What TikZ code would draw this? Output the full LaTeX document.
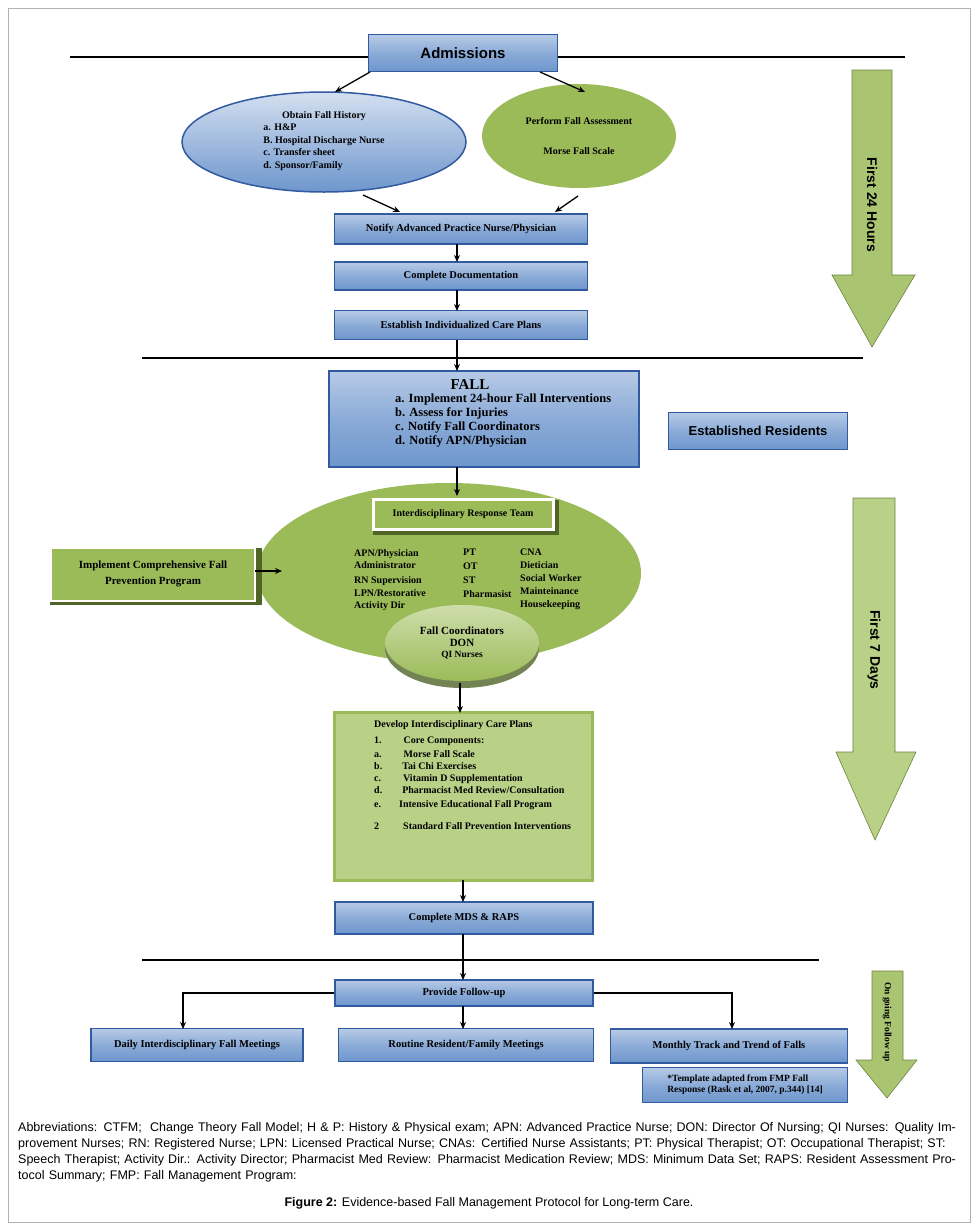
\documentclass[tikz,border=0pt]{standalone}
\usepackage{fontspec}
\setmainfont{Liberation Serif}
\setsansfont{Liberation Sans}
\usetikzlibrary{arrows.meta,shapes.geometric}
\definecolor{bluebox}{RGB}{110,150,205}
\definecolor{bluedark}{RGB}{50,90,160}
\definecolor{gr}{RGB}{155,187,89}
\definecolor{grl}{RGB}{185,208,135}
\definecolor{grd}{RGB}{80,100,40}
\tikzset{
 bbox/.style={draw=bluedark,line width=1.5pt,top color=bluebox!50!white,bottom color=bluebox,middle color=bluebox!80!white,inner sep=0pt,font=\bfseries\fontsize{10.5}{12}\selectfont,align=center},
 arr/.style={-{Stealth[length=7pt,width=6pt]},line width=1.3pt},
 ln/.style={line width=2.2pt},
 bigarrow/.style={fill=gr!85!white,draw=gr!70!black,line width=0.6pt},
 sm/.style={font=\bfseries\fontsize{10}{12}\selectfont},
}
\begin{document}
\begin{tikzpicture}[x=1pt,y=-1pt]
\useasboundingbox (0,0) rectangle (978,1229);
\draw[gray!60] (8,8) rectangle (970,1222);
% lines
\draw[ln] (70,57) -- (905,57);
\draw[ln] (142,358) -- (863,358);
\draw[ln] (142,960) -- (819,960);
% big arrows
\draw[bigarrow] (852,70) -- (892,70) -- (892,275) -- (915,275) -- (872,347) -- (832,275) -- (852,275) -- cycle;
\node[rotate=-90,font=\sffamily\bfseries\fontsize{14}{16}\selectfont] at (872,205) {First 24 Hours};
\draw[bigarrow,fill=grl] (853,498) -- (895,498) -- (895,752) -- (916,752) -- (875,840) -- (836,752) -- (853,752) -- cycle;
\node[rotate=-90,font=\sffamily\bfseries\fontsize{14}{16}\selectfont] at (874,650) {First 7 Days};
\draw[bigarrow] (872,971) -- (903,971) -- (903,1060) -- (917,1060) -- (887,1098) -- (856,1060) -- (872,1060) -- cycle;
\node[rotate=-90,font=\bfseries\fontsize{9.5}{10}\selectfont,align=center] at (887,1022) {On going Follow up};
% top
\node[bbox,minimum width=189pt,minimum height=37pt,font=\sffamily\bfseries\fontsize{15}{17}\selectfont] (adm) at (463,53) {Admissions};
\node[ellipse,draw=bluedark,line width=1.5pt,top color=bluebox!30!white,bottom color=bluebox,minimum width=284pt,minimum height=100pt,align=center,inner sep=0pt,font=\bfseries\fontsize{10}{12.5}\selectfont] (hist) at (324,142) {Obtain Fall History\\[0pt] \begin{tabular}{@{}l@{}}a. H\&P\\ B. Hospital Discharge Nurse\\ c. Transfer sheet\\ d. Sponsor/Family\end{tabular}};
\node[ellipse,fill=gr,minimum width=194pt,minimum height=104pt,align=center,inner sep=0pt,sm] (assess) at (579,136) {Perform Fall Assessment\\[18pt] Morse Fall Scale};
\node[bbox,minimum width=253pt,minimum height=30pt] (notify) at (461,229) {Notify Advanced Practice Nurse/Physician};
\node[bbox,minimum width=253pt,minimum height=28pt] (doc) at (461,276) {Complete Documentation};
\node[bbox,minimum width=253pt,minimum height=29pt] (plans) at (461,325) {Establish Individualized Care Plans};
\draw[arr] (370,72) -- (335,92);
\draw[arr] (540,72) -- (585,92);
\draw[arr] (363,195) -- (400,212);
\draw[arr] (578,196) -- (555,212);
\draw[arr] (457,244) -- (457,262);
\draw[arr] (457,290) -- (457,311);
% fall
\node[bbox,minimum width=310pt,minimum height=96pt] (fall) at (484,419) {};
\node[font=\bfseries\fontsize{15}{16}\selectfont] at (470,385) {FALL};
\node[font=\bfseries\fontsize{12.5}{13.8}\selectfont,align=left,anchor=north west,inner sep=0pt] at (395,394) {a. Implement 24-hour Fall Interventions\\ b. Assess for Injuries\\ c. Notify Fall Coordinators\\ d. Notify APN/Physician};
\draw[arr] (457,340) -- (457,371);
\node[bbox,minimum width=179pt,minimum height=37pt,font=\sffamily\bfseries\fontsize{13}{15}\selectfont] (est) at (758,431) {Established Residents};
% big ellipse
\node[ellipse,fill=gr,minimum width=384pt,minimum height=180pt] (team) at (449,573) {};
\fill[grd] (373,500) rectangle (559,535);
\node[draw=white,line width=3pt,fill=gr,minimum width=180pt,minimum height=30pt,sm] (irt) at (463,514) {Interdisciplinary Response Team};
\draw[arr] (457,467) -- (457,496);
\node[anchor=north west,align=left,sm,inner sep=0pt] at (354,549) {APN/Physician\\ Administrator\\[3pt] RN Supervision\\[1pt] LPN/Restorative\\ Activity Dir};
\node[anchor=north west,align=left,sm,inner sep=0pt] at (463,549) {PT\\[2pt] OT\\[2pt] ST\\[2pt] Pharmasist};
\node[anchor=north west,align=left,sm,inner sep=0pt] at (520,549) {CNA\\[1pt] Dietician\\[1pt] Social Worker\\[1pt] Mainteinance\\[1pt] Housekeeping};
\fill[grd] (50,548) rectangle (262,605);
\node[fill=gr,draw=white,line width=2pt,minimum width=204pt,minimum height=53pt,align=center,font=\bfseries\fontsize{11}{16}\selectfont] (impl) at (153,574) {Implement Comprehensive Fall\\ Prevention Program};
\draw[arr] (255,571) -- (282,571);
\node[ellipse,fill=grd!80,minimum width=154pt,minimum height=80pt] at (462,648) {};
\node[ellipse,top color=grl!70!white,bottom color=gr,minimum width=154pt,minimum height=76pt,align=center,inner sep=0pt,font=\bfseries\fontsize{11}{11.5}\selectfont] (coord) at (462,643) {Fall Coordinators\\ DON\\ {\fontsize{9.5}{11}\selectfont QI Nurses}};
% develop
\node[draw=gr,line width=3pt,fill=grl,minimum width=258pt,minimum height=168pt] (dev) at (463,796) {};
\node[anchor=north west,align=left,sm,inner sep=0pt] at (374,720) {Develop Interdisciplinary Care Plans\\[4pt]
1.\hspace{22pt}Core Components:\\[2pt]
a.\hspace{22pt}Morse Fall Scale\\
b.\hspace{20pt}Tai Chi Exercises\\
c.\hspace{22pt}Vitamin D Supplementation\\
d.\hspace{20pt}Pharmacist Med Review/Consultation\\[2pt]
e.\hspace{18pt}Intensive Educational Fall Program\\[10pt]
2\hspace{24pt}Standard Fall Prevention Interventions};
\draw[arr] (460,683) -- (460,713);
\node[bbox,minimum width=258pt,minimum height=32pt] (mds) at (464,918) {Complete MDS \& RAPS};
\draw[arr] (463,880) -- (463,902);
\node[bbox,minimum width=258pt,minimum height=26pt] (fu) at (464,993) {Provide Follow-up};
\draw[arr] (463,934) -- (463,980);
\node[bbox,minimum width=212pt,minimum height=33pt] (daily) at (197,1045) {Daily Interdisciplinary Fall Meetings};
\node[bbox,minimum width=255pt,minimum height=33pt] (rout) at (466,1045) {Routine Resident/Family Meetings};
\node[bbox,minimum width=237pt,minimum height=34pt] (month) at (729,1046) {Monthly Track and Trend of Falls};
\draw[arr] (fu.west) -| (183,1029);
\draw[arr] (fu.east) -| (732,1029);
\draw[arr] (463,1006) -- (463,1029);
\node[bbox,minimum width=205pt,minimum height=35pt,font=\bfseries\fontsize{9.5}{11}\selectfont,align=left] (tmp) at (745,1085) {*Template adapted from FMP Fall\\ Response (Rask et al, 2007, p.344) [14]};
% footer
\node[anchor=north west,text width=945pt,align=left,font=\sffamily\fontsize{12.5}{16}\selectfont,inner sep=0pt] at (18,1122) {Abbreviations: CTFM;\ \ Change Theory Fall Model; H \& P: History \& Physical exam; APN: Advanced Practice Nurse; DON: Director Of Nursing; QI Nurses: Quality Improvement Nurses; RN: Registered Nurse; LPN: Licensed Practical Nurse; CNAs: Certified Nurse Assistants; PT: Physical Therapist; OT: Occupational Therapist; ST: Speech Therapist; Activity Dir.: Activity Director; Pharmacist Med Review: Pharmacist Medication Review; MDS: Minimum Data Set; RAPS: Resident Assessment Protocol Summary; FMP: Fall Management Program:};
\node[font=\sffamily\fontsize{12.5}{14}\selectfont] (cap) at (489,1203) {\textbf{Figure 2:} Evidence-based Fall Management Protocol for Long-term Care.};
\end{tikzpicture}
\end{document}
